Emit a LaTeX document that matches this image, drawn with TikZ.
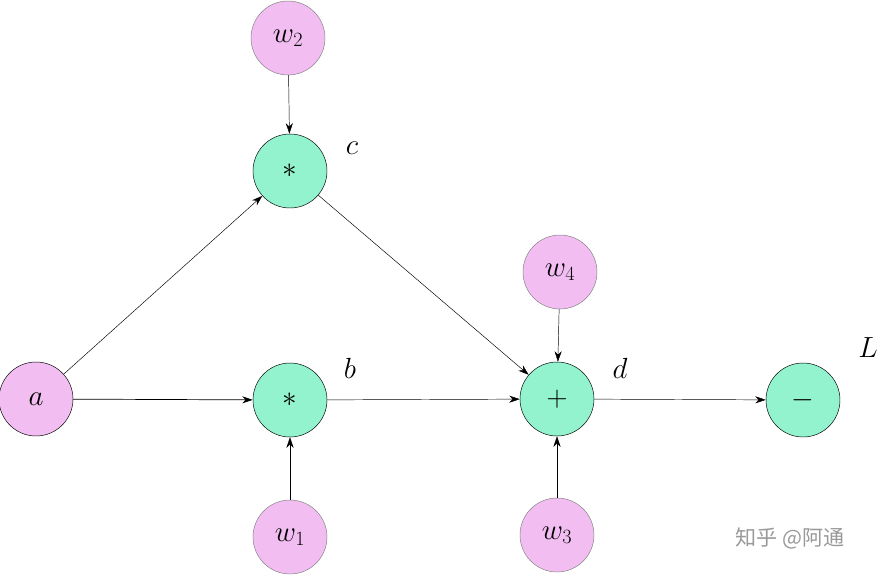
\documentclass[tikz,border=0pt]{standalone}
\usepackage{fontspec}
\newfontfamily\cjk{Noto Sans CJK SC}
\usetikzlibrary{arrows.meta}
\definecolor{pk}{RGB}{242,190,242}
\definecolor{gn}{RGB}{146,243,206}
\begin{document}
\begin{tikzpicture}[x=0.03cm,y=-0.03cm,
  pn/.style={circle,draw=gray,fill=pk,minimum size=2.22cm,inner sep=0pt,font=\fontsize{26}{30}\selectfont},
  gnd/.style={circle,draw=black,fill=gn,minimum size=2.22cm,inner sep=0pt,font=\fontsize{26}{30}\selectfont},
  lb/.style={font=\fontsize{26}{30}\selectfont},
  ar/.style={-{Stealth[length=9pt,width=6pt]},thin}]
\useasboundingbox (0,0) rectangle (883,576);
\node[pn,draw=black] (a) at (36,399) {$a$};
\node[gnd] (b) at (290,400) {$*$};
\node[gnd] (c) at (290,171) {$*$};
\node[gnd] (d) at (557,399) {$+$};
\node[gnd] (m) at (803,400) {$-$};
\node[pn] (w2) at (288,38) {$w_2$};
\node[pn] (w1) at (290,537) {$w_1$};
\node[pn] (w4) at (560,272) {$w_4$};
\node[pn] (w3) at (557,535) {$w_3$};
\node[lb] (lc) at (352,148) {$c$};
\node[lb] (lbb) at (350,368) {$b$};
\node[lb] (ld) at (620,368) {$d$};
\node[lb] (lL) at (868,348) {$L$};
\node[text=gray!80,font=\cjk\fontsize{18}{20}\selectfont] (wm) at (790,538) {知乎 @阿通};
\draw[ar] (a) -- (c);
\draw[ar,semithick] (a) -- (b);
\draw[ar] (w2) -- (c);
\draw[ar] (c) -- (d);
\draw[ar] (b) -- (d);
\draw[ar] (w4) -- (d);
\draw[ar] (w3) -- (d);
\draw[ar] (w1) -- (b);
\draw[ar] (d) -- (m);
\end{tikzpicture}
\end{document}
